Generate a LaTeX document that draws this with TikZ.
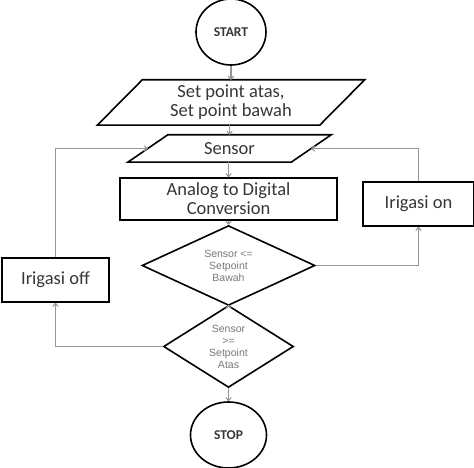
\documentclass[tikz,border=0pt]{standalone}
\usepackage{fontspec}
\setmainfont{Carlito}
\newfontfamily\arialf{Liberation Sans}
\usetikzlibrary{shapes.geometric,arrows.meta}
\definecolor{linegray}{RGB}{150,150,150}
\definecolor{txtgray}{RGB}{55,55,55}
\definecolor{dtxt}{RGB}{120,120,120}
\begin{document}
\begin{tikzpicture}[x=1pt,y=-1pt,
  box/.style={draw=black,line width=1.6pt,rectangle,inner sep=0pt,align=center,text=txtgray,font=\fontsize{18.5}{19}\selectfont},
  term/.style={draw=black,line width=1.6pt,ellipse,inner sep=0pt,text=txtgray,font=\fontsize{13.5}{14}\selectfont\bfseries},
  dec/.style={draw=black,line width=1.6pt,diamond,inner sep=0pt,align=center,text=dtxt,font=\arialf\fontsize{10.5}{12}\selectfont},
  io/.style={rectangle,inner sep=0pt,align=center,text=txtgray,font=\fontsize{18.5}{19}\selectfont},
  ioline/.style={draw=black,line width=1.6pt,line join=miter},
  conn/.style={draw=linegray,line width=1.1pt,-{To[length=4pt,width=6pt]}}]
\fill[white] (0,0) rectangle (474,468);
\useasboundingbox (0,0) rectangle (474,468);

\node[term,minimum width=70pt,minimum height=66pt] (start) at (231,32) {START};
\node[io,minimum width=222pt,minimum height=45pt] (sp) at (231,102.5) {Set point atas,\\Set point bawah};
\draw[ioline] ([xshift=-22.5pt]sp.south west) -- ([xshift=-22.5pt]sp.south east) -- ([xshift=22.5pt]sp.north east) -- ([xshift=22.5pt]sp.north west) -- cycle;
\node[io,minimum width=163pt,minimum height=27pt] (sensor) at (229.5,148.5) {Sensor};
\draw[ioline] ([xshift=-20pt]sensor.south west) -- ([xshift=-20pt]sensor.south east) -- ([xshift=20pt]sensor.north east) -- ([xshift=20pt]sensor.north west) -- cycle;
\node[box,minimum width=217pt,minimum height=42pt] (adc) at (228.5,199) {Analog to Digital\\Conversion};
\node[box,minimum width=111pt,minimum height=44pt] (on) at (418.5,204) {Irigasi on};
\node[dec,minimum width=173pt,minimum height=71pt] (d1) at (228.5,265.5) {Sensor <=\\Setpoint\\Bawah};
\node[box,minimum width=107pt,minimum height=44pt] (off) at (55.5,280) {Irigasi off};
\node[dec,minimum width=130pt,minimum height=69pt] (d2) at (228.5,346.5) {Sensor\\>=\\Setpoint\\Atas};
\node[term,minimum width=76pt,minimum height=66pt] (stop) at (228.5,435) {STOP};

\draw[conn] (start.south) -- (start.south |- sp.north);
\draw[conn] (sp.south -| sensor.south) -- (sensor.north);
\draw[conn] (sensor.south -| adc.north) -- (adc.north);
\draw[conn] (adc.south) -- (d1.north);
\draw[conn] (d1.south) -- (d2.north);
\draw[conn] (d2.south) -- (stop.north);
\draw[conn] (off.north) |- (sensor.west);
\draw[conn] (on.north) |- (sensor.east);
\draw[conn] (d1.east) -| (on.south);
\draw[conn] (d2.west) -| (off.south);
\end{tikzpicture}
\end{document}
